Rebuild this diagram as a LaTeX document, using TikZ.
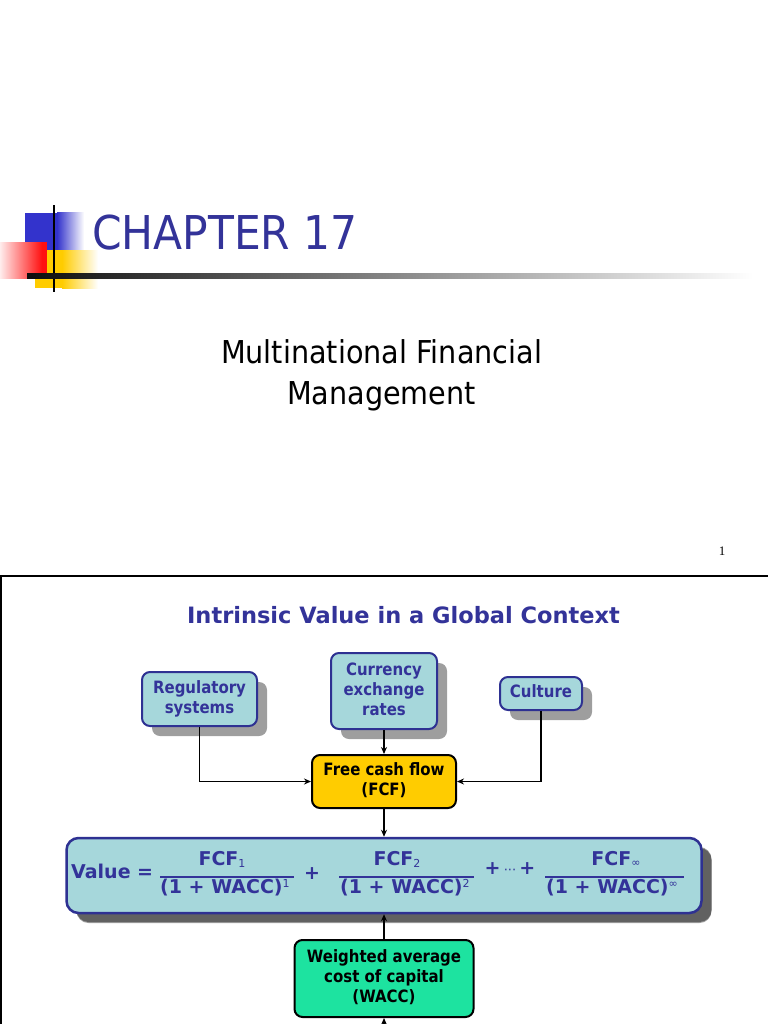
\documentclass[tikz,border=0pt]{standalone}
\usepackage{fontspec}
\setmainfont{DejaVu Sans}
\usepackage{graphicx}
\usetikzlibrary{shadows,arrows.meta}
\definecolor{navy}{HTML}{333399}
\definecolor{bordb}{HTML}{2E3192}
\definecolor{lblue}{HTML}{A6D7DB}
\definecolor{fcfy}{HTML}{FFCC00}
\definecolor{waccg}{HTML}{1DE3A0}
\definecolor{logoblue}{HTML}{3333CC}
\definecolor{logored}{HTML}{FF1010}
\newcommand{\tah}[2][0.9]{\scalebox{#1}[1]{#2}}
\newcommand{\fsz}[2]{\fontsize{#1}{#2}\selectfont}
\newcommand{\boxtxt}[1]{\tah[0.88]{\fsz{17}{20}\bfseries\begin{tabular}{@{}c@{}}#1\end{tabular}}}
\newcommand{\mysub}[1]{\raisebox{-2pt}{\fsz{11}{11}\mdseries #1}}
\newcommand{\mysup}[1]{\raisebox{5.5pt}{\fsz{11}{11}\mdseries #1}}
\newcommand{\fx}{\fsz{19}{22}\bfseries}
\begin{document}
\begin{tikzpicture}[x=1pt,y=-1pt,
  bbox/.style={draw=bordb, line width=2pt, fill=lblue, rounded corners=8pt, inner sep=0pt, text=navy,
    drop shadow={shadow xshift=10pt, shadow yshift=-10pt, fill=black, opacity=0.38}},
  kbox/.style={draw=black, line width=2pt, rounded corners=8pt, inner sep=0pt, text=black},
  arr/.style={-{Stealth[length=7pt,width=6pt]}, line width=1.5pt, black},
  ftxt/.style={inner sep=0pt, anchor=base, text=navy, font=\fx},
  fline/.style={draw=navy, line width=2pt}]
\useasboundingbox (0,0) rectangle (768,1024);
\fill[white] (0,0) rectangle (768,1024);
% ---------- slide 1 logo ----------
\fill[logoblue] (25,213) rectangle (57,250);
\shade[left color=logoblue, right color=white] (57,213) rectangle (84,250);
\fill[fcfy] (35,250) rectangle (62,288);
\shade[left color=fcfy, right color=white] (62,250) rectangle (98,288);
\shade[left color=logored!8, right color=logored] (0,242) rectangle (42,278);
\fill[logored] (42,242) rectangle (47,278);
\fill[black] (53,205) rectangle (55,292);
\shade[left color=black!95, right color=white] (27,273) rectangle (753,278);
\node[anchor=base west, inner sep=0pt, text=navy] (chap) at (92,249)
  {\tah[0.91]{\fsz{46.6}{50}CHAPTER 17}};
\node[inner sep=0pt, anchor=base] (mfm1) at (381.5,363)
  {\tah[0.91]{\fsz{31.5}{35}Multinational Financial}};
\node[inner sep=0pt, anchor=base] (mfm2) at (381.5,404)
  {\tah[0.91]{\fsz{31.5}{35}Management}};
\node[inner sep=0pt, anchor=base] (pg) at (722,555) {\fontspec{Liberation Serif}\fsz{13}{15}1};
% ---------- slide 2 frame ----------
\draw[line width=1.5pt] (0,576) -- (768,576);
\draw[line width=1.5pt] (0.75,576) -- (0.75,1024);
\node[inner sep=0pt, anchor=base, text=navy] (title) at (403.5,623)
  {\fsz{22.5}{26}\bfseries Intrinsic Value in a Global Context};
% ---------- boxes ----------
\node[bbox, minimum width=115pt, minimum height=54pt] (reg) at (199.5,699) {\boxtxt{Regulatory\\systems}};
\node[bbox, minimum width=106pt, minimum height=76pt] (cur) at (384,691) {\boxtxt{Currency\\exchange\\rates}};
\node[bbox, minimum width=82pt, minimum height=33pt] (cul) at (541,693.5) {\boxtxt{Culture}};
\node[kbox, fill=fcfy, minimum width=144pt, minimum height=53pt] (fcf) at (384,781.5) {\boxtxt{Free cash flow\\(FCF)}};
\node[bbox, line width=2.5pt, rounded corners=12pt, minimum width=635pt, minimum height=75pt,
  drop shadow={shadow xshift=10pt, shadow yshift=-9pt, fill=black, opacity=0.38}] (val) at (384,875.5) {};
\node[kbox, fill=waccg, minimum width=179pt, minimum height=77pt] (wacc) at (384,978.5)
  {\boxtxt{Weighted average\\cost of capital\\(WACC)}};
% ---------- formula ----------
\node[ftxt, anchor=base west] (vlab) at (71,878) {Value =};
\node[ftxt] (n1) at (222,865) {FCF\mysub{1}};
\node[ftxt, anchor=base west] (d1) at (160,893) {(1 + WACC)\mysup{1}};
\draw[fline] (160,877) -- (294,877);
\node[ftxt, anchor=center] (p1) at (312,874) {+};
\node[ftxt] (n2) at (397,865) {FCF\mysub{2}};
\node[ftxt, anchor=base west] (d2) at (340,893) {(1 + WACC)\mysup{2}};
\draw[fline] (339,877) -- (474,877);
\node[ftxt, anchor=center] (p2) at (510,869) {+\,{\mdseries\fsz{13}{13}···}\,+};
\node[ftxt] (n3) at (616,865) {FCF\mysub{\raisebox{1pt}{∞}}};
\node[ftxt, anchor=base west] (d3) at (546,893) {(1 + WACC)\mysup{∞}};
\draw[fline] (545,877) -- (684,877);
% ---------- connectors ----------
\draw[arr] (reg.south) |- (fcf.west);
\draw[arr] (cul.south) |- (fcf.east);
\draw[arr] (cur.south) -- (fcf.north);
\draw[arr] (fcf.south) -- (val.north);
\draw[arr] (wacc.north) -- (val.south);
\coordinate (bot) at (384,1030);
\draw[arr] (bot) -- (wacc.south);
\end{tikzpicture}
\end{document}
